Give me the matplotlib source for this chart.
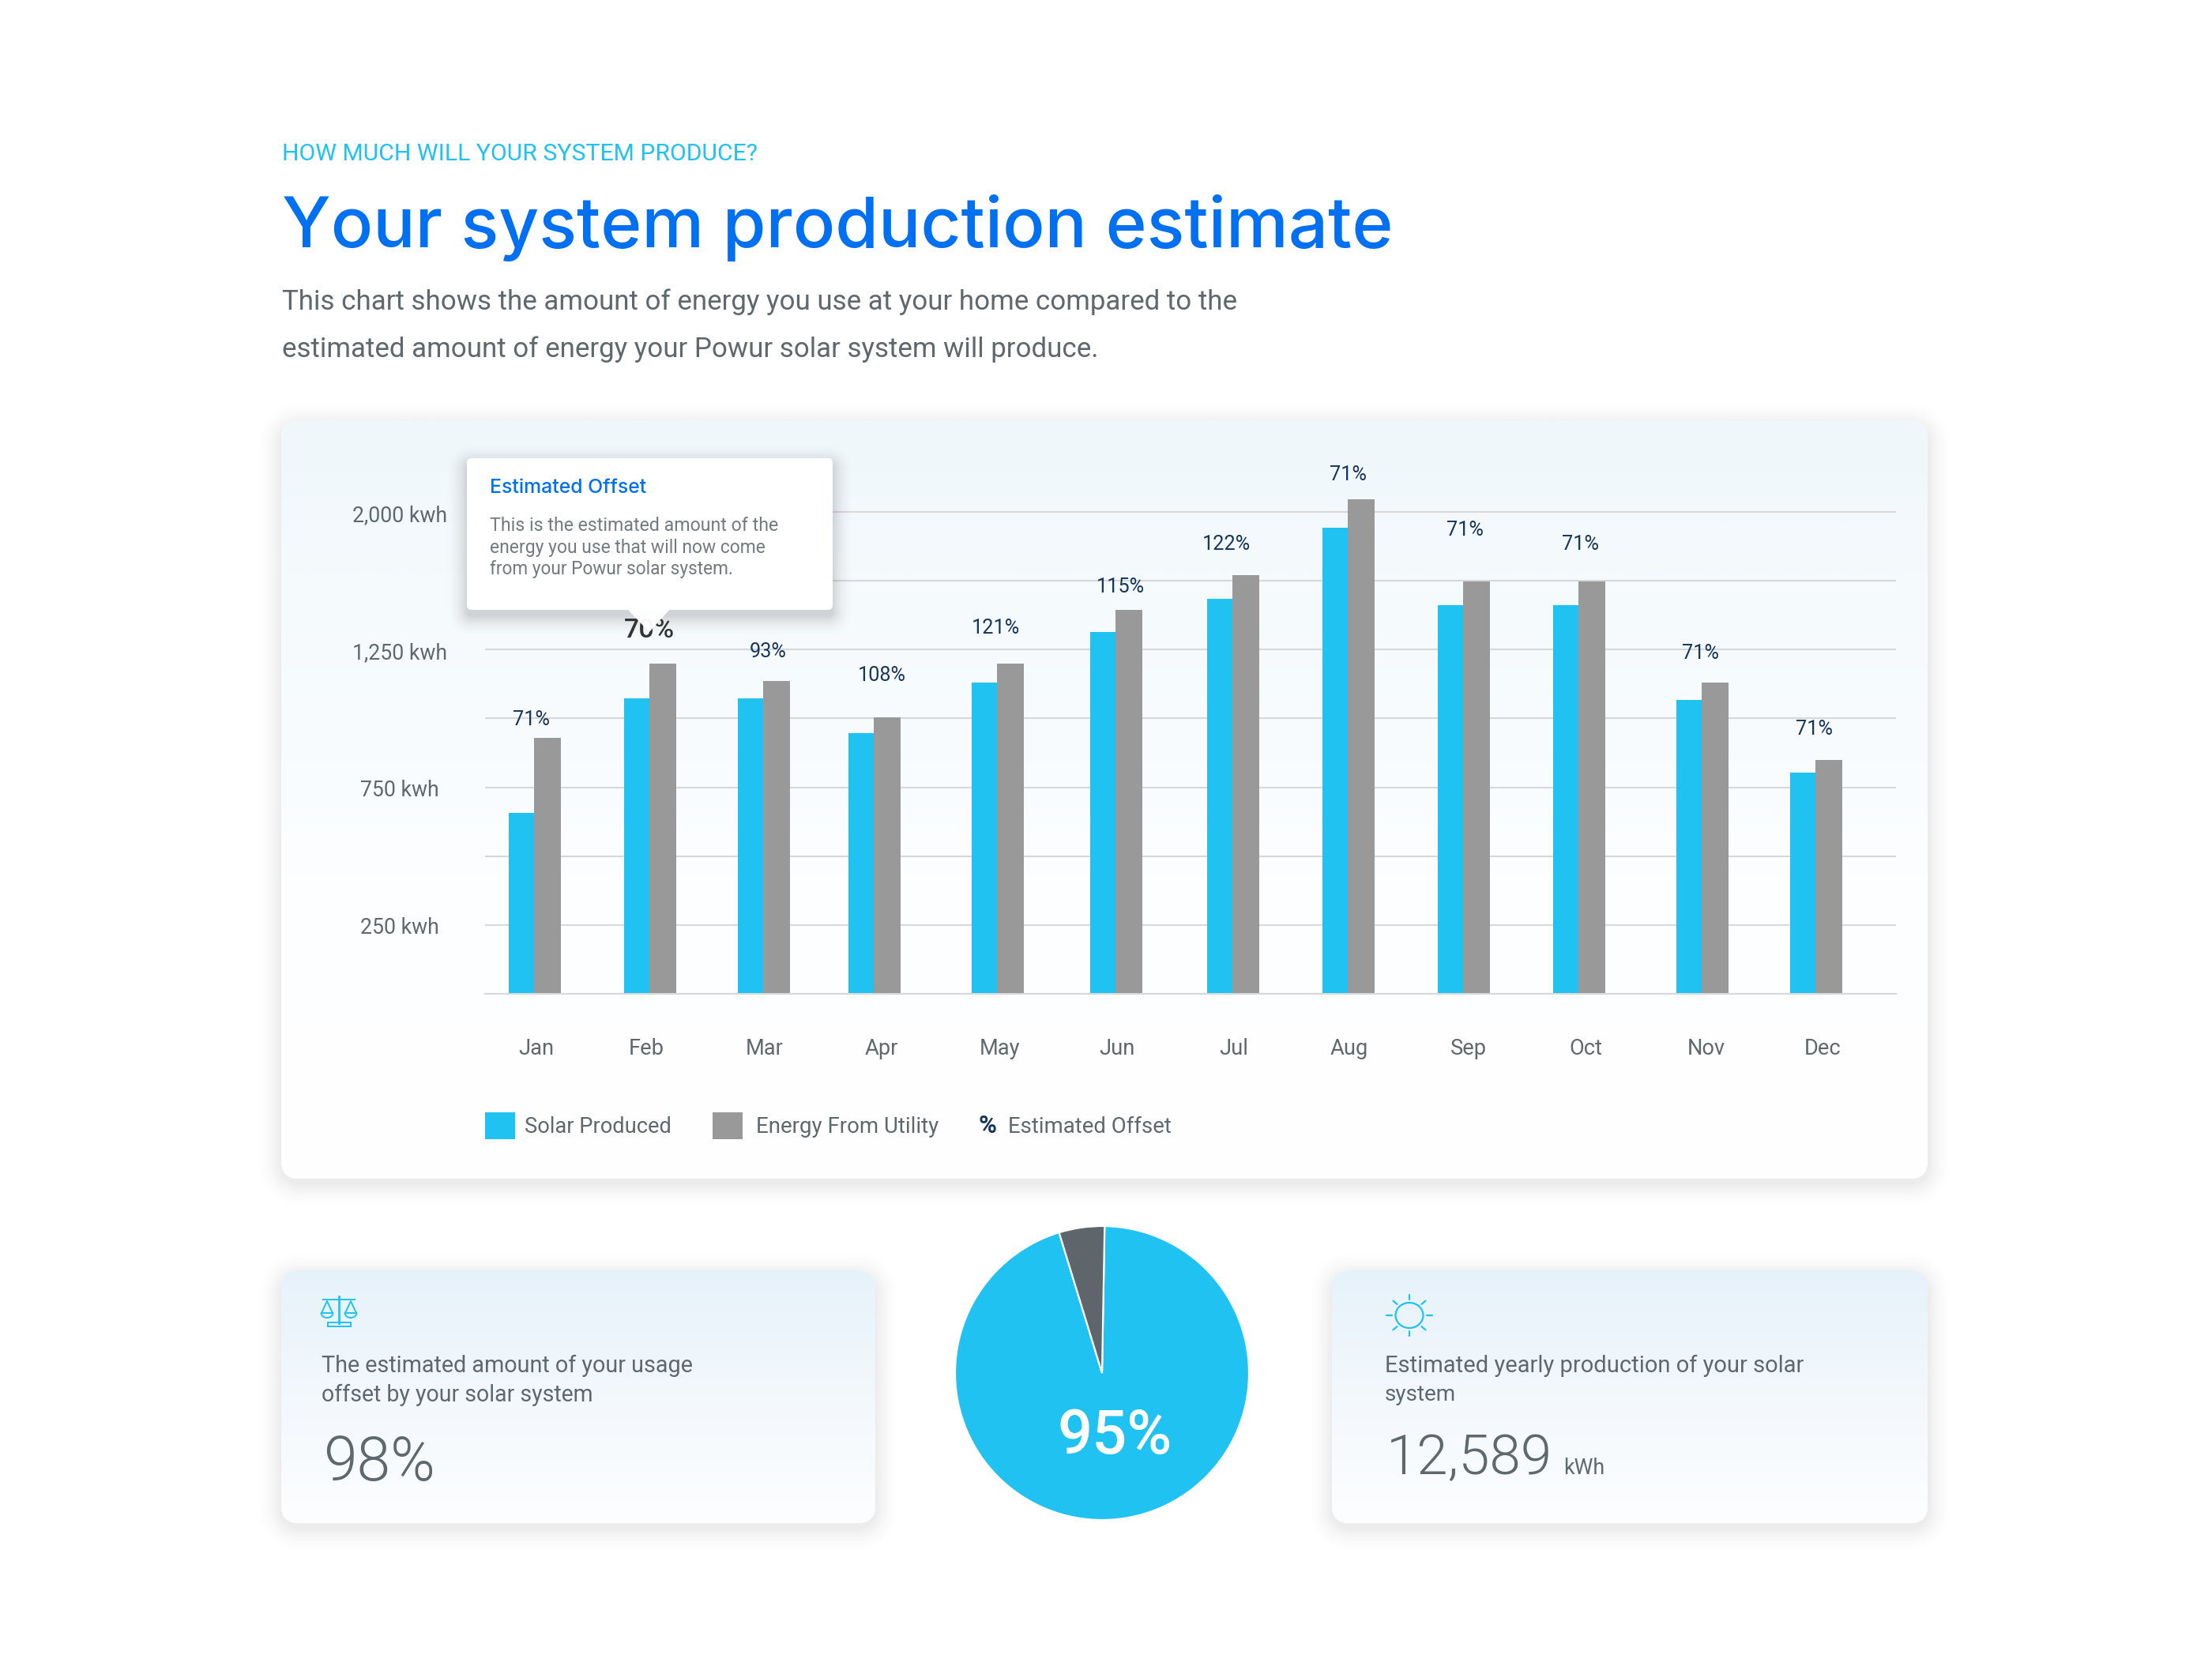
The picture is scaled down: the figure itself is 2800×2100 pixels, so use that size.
#!/usr/bin/env python3

'''
Solar production estimate page: monthly bar chart in a card, a pie and two
summary cards. Page furniture is laid out in pixel coordinates (2800x2100).
'''

import numpy as np
import matplotlib
matplotlib.use('Agg')
import matplotlib.pyplot as plt
from matplotlib.colors import LinearSegmentedColormap
from matplotlib.patches import Arc, Ellipse, FancyBboxPatch, Polygon, Rectangle
from matplotlib.transforms import ScaledTranslation

months = ['Jan', 'Feb', 'Mar', 'Apr', 'May', 'Jun', 'Jul', 'Aug', 'Sep', 'Oct', 'Nov', 'Dec']
solar = [657, 1073, 1073, 947, 1130, 1314, 1434, 1693, 1411, 1411, 1067, 803]
utility = [929, 1199, 1136, 1004, 1199, 1394, 1520, 1796, 1497, 1497, 1130, 849]
offset = ['71%', '70%', '93%', '108%', '121%', '115%', '122%', '71%', '71%', '71%', '71%', '71%']
grid_levels = [0, 250, 500, 750, 1000, 1250, 1500, 1750]
grid_labels = ['', '250 kwh', '', '750 kwh', '', '1,250 kwh', '', '2,000 kwh']
pie_values = [95, 5]

# layout, in page pixels
bar_x = [676, 822, 966, 1106, 1262, 1412, 1560, 1706, 1852, 1998, 2154, 2298]
month_x = [679, 818, 968, 1116, 1265, 1414, 1562, 1708, 1859, 2007, 2160, 2307]
offset_x = [673, 822, 972, 1116, 1260, 1418, 1553, 1707, 1855, 2001, 2153, 2297]
offset_y = [918, 807, 832, 862, 802, 750, 696, 608, 678, 696, 834, 930]

BLUE = '#20c2f2'
GRAY = '#999999'
SLATE = '#5f686d'
NAVY = '#17365d'
ROYAL = '#0070f3'
GRID = '#d6d8da'

W, H = 2800, 2100
plt.rcParams['font.family'] = ['Roboto', 'DejaVu Sans']

fig = plt.figure(figsize=(14, 10.5), dpi=200, facecolor='white')


def page_axes(zorder):
    a = fig.add_axes([0, 0, 1, 1], zorder=zorder)
    a.set_xlim(0, W)
    a.set_ylim(H, 0)
    a.axis('off')
    a.patch.set_alpha(0)
    return a


page = page_axes(0)
over = page_axes(3)


def shadow(a, x0, y0, x1, y1, rad, blur, dy, strength, z):
    # soft drop shadow from the distance to a rounded rectangle
    m = int(blur) + 4
    ys, xs = np.mgrid[y0 - m + dy:y1 + m + dy, x0 - m:x1 + m]
    cx, cy = (x0 + x1) / 2, (y0 + y1) / 2 + dy
    qx = np.abs(xs + 0.5 - cx) - (x1 - x0) / 2 + rad
    qy = np.abs(ys + 0.5 - cy) - (y1 - y0) / 2 + rad
    d = np.hypot(np.maximum(qx, 0), np.maximum(qy, 0)) + np.minimum(np.maximum(qx, qy), 0) - rad
    img = np.zeros(d.shape + (4,))
    img[..., :3] = 0.25
    img[..., 3] = strength * np.clip(1 - d / blur, 0, 1) ** 2
    a.imshow(img, extent=(x0 - m, x1 + m, y1 + m + dy, y0 - m + dy), aspect='auto', zorder=z,
             interpolation='bilinear')
    a.set_xlim(0, W)
    a.set_ylim(H, 0)


def card(x0, y0, x1, y1, stops, rad=22):
    shadow(page, x0, y0, x1, y1, rad, 34, 6, 0.10, 1)
    box = FancyBboxPatch((x0 + rad, y0 + rad), x1 - x0 - 2 * rad, y1 - y0 - 2 * rad,
                         boxstyle='round,pad=%d,rounding_size=%d' % (rad, rad),
                         fc='white', ec='none', zorder=2)
    page.add_patch(box)
    cmap = LinearSegmentedColormap.from_list('card', stops)
    im = page.imshow(np.linspace(0, 1, 400)[:, None], cmap=cmap, vmin=0, vmax=1, aspect='auto',
                     extent=(x0, x1, y1, y0), zorder=3)
    im.set_clip_path(box)
    page.set_xlim(0, W)
    page.set_ylim(H, 0)


def put(x, y, s, right=None, size=10.0, color=SLATE, ha='left', a=None, **kw):
    # baseline anchored text; with right given the size is fitted to that width
    t = (a or over).text(x, y, s, fontsize=size, color=color, ha=ha, va='baseline', **kw)
    if right is not None:
        w = t.get_window_extent(fig.canvas.get_renderer()).width
        t.set_fontsize(size * (right - x) / w)
    return t


# cards
card(356, 532, 2440, 1492, [(0, '#eff7fb'), (0.2, '#f5fafd'), (0.45, '#f8fcff'), (0.6, '#fdfeff'), (1, '#ffffff')])
card(356, 1608, 1108, 1928, [(0, '#e6f2fa'), (0.5, '#f3f8fd'), (1, '#fdfeff')])
card(1686, 1608, 2440, 1928, [(0, '#e6f2fa'), (0.5, '#f3f8fd'), (1, '#fdfeff')])

# heading
put(357, 203, 'HOW MUCH WILL YOUR SYSTEM PRODUCE?', right=957, color=BLUE)
put(357, 313, 'Your system production estimate', right=1764, size=30, color=ROYAL,
    family=['Inter', 'DejaVu Sans'], fontweight='medium')
put(357, 392, 'This chart shows the amount of energy you use at your home compared to the', right=1563)
put(357, 452, 'estimated amount of energy your Powur solar system will produce.', right=1389)

# bar chart
ax = fig.add_axes([614 / W, 1 - 1258 / H, (2400 - 614) / W, 658 / H], zorder=1)
ax.patch.set_alpha(0)
ax.bar(bar_x, solar, width=-32, align='edge', color=BLUE, linewidth=0)
ax.bar(bar_x, utility, width=34, align='edge', color=GRAY, linewidth=0)
ax.set_xlim(614, 2400)
ax.set_ylim(0, 1888)
ax.set_yticks(grid_levels, grid_labels, fontsize=9.6, color=SLATE, ha='center', va='center')
ax.set_xticks(month_x, months, fontsize=9.8, color=SLATE)
ax.tick_params(axis='y', length=0, pad=39)
ax.tick_params(axis='x', length=0, pad=20)
nudge = ScaledTranslation(0, -4 / 200, fig.dpi_scale_trans)
for lab in ax.get_yticklabels():
    lab.set_transform(lab.get_transform() + nudge)
ax.grid(axis='y', color=GRID, linewidth=0.75)
ax.set_axisbelow(True)
for side in ['top', 'left', 'right']:
    ax.spines[side].set_visible(False)
ax.spines['bottom'].set_color(GRID)
ax.spines['bottom'].set_linewidth(0.75)

# offset labels; February sits partly under the tooltip pointer
for i, (x, y, s) in enumerate(zip(offset_x, offset_y, offset)):
    if months[i] == 'Feb':
        put(x, y, s, size=12.4, color='#333333', ha='center', fontweight='medium', zorder=1)
    else:
        put(x, y, s, size=9.1, color=NAVY, ha='center', zorder=1)

# legend row
over.add_patch(Rectangle((614, 1408), 38, 34, fc=BLUE, ec='none'))
put(664, 1434, 'Solar Produced', right=850)
over.add_patch(Rectangle((902, 1408), 38, 34, fc=GRAY, ec='none'))
put(957, 1434, 'Energy From Utility', right=1188)
put(1238, 1434, '%', right=1261, color=NAVY, fontweight='bold')
put(1276, 1434, 'Estimated Offset', right=1482)

# tooltip over the chart
shadow(over, 591, 580, 1054, 772, 6, 28, 8, 0.20, 4)
over.add_patch(FancyBboxPatch((597, 586), 451, 180, boxstyle='round,pad=6,rounding_size=6',
                              fc='white', ec='none', zorder=5))
over.add_patch(Polygon([(793, 770), (849, 770), (822, 800)], closed=True, fc='white', ec='none',
                       alpha=0.96, zorder=5))
put(620, 624, 'Estimated Offset', right=818, color=ROYAL, family=['Inter', 'DejaVu Sans'],
    fontweight='medium', zorder=6)
put(620, 672, 'This is the estimated amount of the', right=984, color='#737b80', zorder=6)
put(620, 700, 'energy you use that will now come', right=969, color='#737b80', zorder=6)
put(620, 727, 'from your Powur solar system.', right=928, color='#737b80', zorder=6)

# pie, gray slice running just past twelve o'clock
r = 186
pie_ax = fig.add_axes([(1395 - r) / W, 1 - (1738 + r) / H, 2 * r / W, 2 * r / H], zorder=2)
pie_ax.pie(pie_values, colors=[BLUE, '#5f666b'], startangle=89, counterclock=False,
           radius=1.0, wedgeprops={'edgecolor': 'white', 'linewidth': 0.8})
pie_ax.set_xlim(-1, 1)
pie_ax.set_ylim(-1, 1)
put(1338, 1840, '95%', right=1483, color='white', fontweight='medium')

# left summary card
put(407, 1737, 'The estimated amount of your usage', right=877)
put(407, 1774, 'offset by your solar system', right=750)
put(409, 1874, '98%', right=551, size=24, fontweight=300)

# right summary card
put(1753, 1737, 'Estimated yearly production of your solar', right=2282)
put(1753, 1773, 'system', right=1843)
put(1755, 1866, '12,589', right=1965, size=24, fontweight=300)
put(1979, 1866, 'kWh', right=2031)

# balance icon
lw_icon = 0.7
over.plot([429, 429], [1641, 1675], color=BLUE, lw=lw_icon * 1.4)
over.plot([409, 449], [1645, 1645], color=BLUE, lw=lw_icon)
over.add_patch(Rectangle((415, 1674), 29, 5, fc='none', ec=BLUE, lw=lw_icon))
for cx in [414, 444]:
    over.plot([cx - 7, cx, cx + 7], [1662, 1647, 1662], color=BLUE, lw=lw_icon)
    over.plot([cx - 7, cx + 7], [1662, 1662], color=BLUE, lw=lw_icon)
    over.add_patch(Arc((cx, 1662), 15, 12, theta1=0, theta2=180, ec=BLUE, lw=lw_icon))

# sun icon
over.add_patch(Ellipse((1784, 1665), 35, 32, fc='none', ec=BLUE, lw=0.8))
for ang in np.radians(np.arange(0, 360, 45)):
    over.plot([1784 + 22 * np.cos(ang), 1784 + 29 * np.cos(ang)],
              [1665 + 20 * np.sin(ang), 1665 + 26 * np.sin(ang)],
              color=BLUE, lw=0.8, solid_capstyle='round')

plt.savefig('out.png', dpi=200)
